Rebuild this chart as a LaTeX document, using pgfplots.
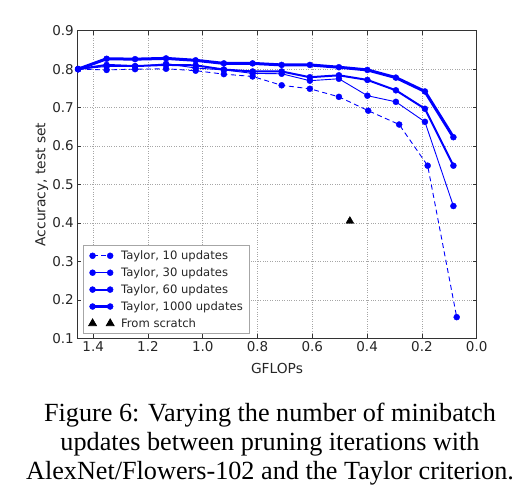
\documentclass[border=0pt]{standalone}
\usepackage{fontspec}
\setmainfont{DejaVu Sans}
\newfontfamily\capfont{Liberation Serif}
\usepackage{pgfplots}
\pgfplotsset{compat=1.18}
\definecolor{mblue}{RGB}{0,0,255}
\pgfplotsset{twomarks/.style={legend image code/.code={\draw[##1] plot[only marks] coordinates {(0pt,0pt) (17.6pt,0pt)};}}}
\begin{document}
\begin{tikzpicture}
\useasboundingbox (-77.3pt,-151.7pt) rectangle (452.7pt,338.3pt);
\begin{axis}[
  at={(0pt,0pt)}, anchor=south west,
  scale only axis, width=399.4pt, height=307.6pt,
  x dir=reverse,
  xmin=0, xmax=1.458, ymin=0.1, ymax=0.9,
  xtick={0,0.2,0.4,0.6,0.8,1.0,1.2,1.4},
  ytick={0.1,0.2,0.3,0.4,0.5,0.6,0.7,0.8,0.9},
  xticklabel style={/pgf/number format/.cd,fixed,fixed zerofill,precision=1},
  yticklabel style={/pgf/number format/.cd,fixed,fixed zerofill,precision=1},
  /pgf/number format/assume math mode=true,
  tick label style={font=\fontsize{13.5}{16}\selectfont, text=black!85},
  xlabel={GFLOPs}, ylabel={Accuracy, test set},
  every axis x label/.style={at={(axis description cs:0.5,-0.113)}, anchor=base, font=\fontsize{13.8}{16}\selectfont, text=black!85},
  every axis y label/.style={at={(axis description cs:-0.089,0.5)}, rotate=90, anchor=center, font=\fontsize{13.8}{16}\selectfont, text=black!85},
  tick align=inside, major tick length=4pt,
  axis line style={black!80, line width=0.9pt},
  every tick/.style={black!80, line width=0.6pt},
  grid=major, grid style={dotted, gray!70, line width=0.6pt},
  legend style={at={(axis description cs:0.015,0.014)}, anchor=south west,
    draw=gray!70, line width=0.8pt, fill=white, font=\fontsize{11.6}{13}\selectfont,
    text=black!85, cells={anchor=west}, row sep=2.6pt, column sep=5pt, inner xsep=5pt, inner ysep=3pt},
  legend image code/.code={\draw[#1] plot coordinates {(0pt,0pt) (17.6pt,0pt)};},
]
\addplot[mblue, line width=0.9pt, dash pattern=on 5pt off 3.5pt, mark=*, mark size=3pt, mark options={solid, line width=0.4pt}] coordinates {
(1.455,0.800)(1.351,0.798)(1.247,0.800)(1.134,0.801)(1.026,0.796)(0.923,0.787)(0.818,0.781)(0.712,0.758)(0.609,0.749)(0.503,0.728)(0.396,0.692)(0.283,0.656)(0.179,0.549)(0.073,0.155)};
\addlegendentry{Taylor, 10 updates}
\addplot[mblue, line width=0.9pt, mark=*, mark size=3pt, mark options={line width=0.4pt}] coordinates {
(1.455,0.800)(1.351,0.807)(1.247,0.807)(1.134,0.814)(1.026,0.803)(0.923,0.798)(0.818,0.789)(0.712,0.788)(0.609,0.770)(0.503,0.775)(0.399,0.731)(0.295,0.715)(0.189,0.663)(0.085,0.444)};
\addlegendentry{Taylor, 30 updates}
\addplot[mblue, line width=2pt, mark=*, mark size=3pt, mark options={line width=0.4pt}] coordinates {
(1.455,0.800)(1.351,0.811)(1.247,0.808)(1.134,0.811)(1.026,0.810)(0.923,0.799)(0.818,0.794)(0.712,0.794)(0.609,0.779)(0.503,0.784)(0.399,0.772)(0.295,0.745)(0.189,0.697)(0.085,0.549)};
\addlegendentry{Taylor, 60 updates}
\addplot[mblue, line width=3pt, mark=*, mark size=3pt, mark options={line width=0.4pt}] coordinates {
(1.455,0.800)(1.351,0.827)(1.247,0.826)(1.134,0.828)(1.026,0.823)(0.923,0.815)(0.818,0.815)(0.712,0.811)(0.609,0.811)(0.503,0.805)(0.399,0.798)(0.295,0.778)(0.189,0.742)(0.085,0.623)};
\addlegendentry{Taylor, 1000 updates}
\addplot[only marks, black, mark=triangle*, mark size=4.5pt, twomarks] coordinates {(0.463,0.405)};
\addlegendentry{From scratch}
\end{axis}
\begin{scope}[every node/.style={font=\capfont\fontsize{26.2}{29}\selectfont, anchor=base, inner sep=0pt}]
\node at (192.7pt,-83.4pt) {Figure 6: Varying the number of minibatch};
\node at (192.7pt,-112.2pt) {updates between pruning iterations with};
\node at (192.7pt,-141.0pt) {AlexNet/Flowers-102 and the Taylor criterion.};
\end{scope}
\end{tikzpicture}
\end{document}
